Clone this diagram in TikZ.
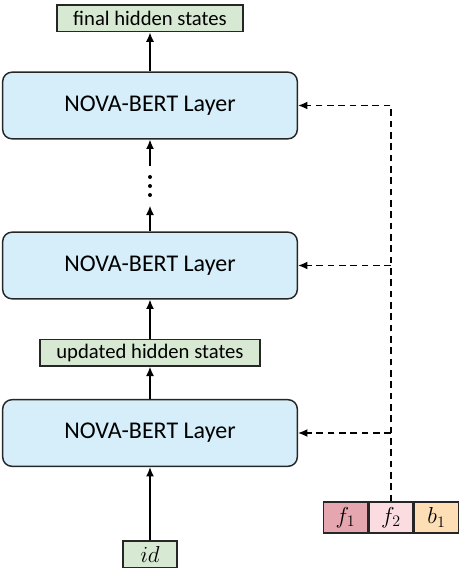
\documentclass[tikz,border=0pt]{standalone}
\usepackage{fontspec}
\setmainfont{Carlito}
\usepackage{tikz}
\usetikzlibrary{positioning, arrows.meta}
\definecolor{layerblue}{HTML}{D5EEF9}
\definecolor{stategreen}{HTML}{D7E9D2}
\definecolor{fone}{HTML}{E5A6AF}
\definecolor{ftwo}{HTML}{FBDCE1}
\definecolor{bone}{HTML}{FEDFB5}

\begin{document}
\begin{tikzpicture}[x=0.75pt,y=-0.75pt,>={Latex[length=7pt,width=6pt]},line width=1.1pt]
\tikzstyle{layer}=[rectangle,rounded corners=7pt,draw=black!85,fill=layerblue,minimum width=221pt,minimum height=50pt,font=\fontsize{18}{21}\selectfont]
\tikzstyle{hstate}=[rectangle,draw=black!85,fill=stategreen,minimum height=20pt,inner sep=2pt,font=\fontsize{15.5}{18}\selectfont]
\tikzstyle{feat}=[rectangle,draw=black!85,minimum width=33pt,minimum height=23pt,inner sep=0pt,font=\fontsize{18}{20}\selectfont]
\tikzstyle{side}=[->,dash pattern=on 5pt off 3.5pt]
\useasboundingbox (0,0) rectangle (464,571);
\node [layer] (l3) at (150,433) {NOVA-BERT Layer};
\node [layer] (l2) at (150,265.5) {NOVA-BERT Layer};
\node [layer] (l1) at (150,105.5) {NOVA-BERT Layer};
\node [hstate,minimum width=40.5pt,font=\fontsize{18}{20}\selectfont] (id) [below= 54.75pt of l3] {$id$}
edge [->](l3);
\node [hstate,minimum width=165pt] (upd) [below= 29.25pt of l2] {updated hidden states}
edge [<-](l3)
edge [->](l2);
\node [minimum height=28.5pt,inner sep=0pt] (dots) at (150,186) {}
edge [<-](l2)
edge [->](l1);
\node [hstate,minimum width=139.5pt] (final) [above= 29.25pt of l1] {final hidden states}
edge [<-](l1);
\fill (dots.center) ++(0,-9) circle (2) ++(0,9) circle (2) ++(0,9) circle (2);
% side features
\node [feat,fill=ftwo] (f2) at (391,517.5) {$f_2$};
\node [feat,fill=fone] (f1) [left= 0pt of f2] {$f_1$};
\node [feat,fill=bone] (b1) [right= 0pt of f2] {$b_1$};
\draw [side] (f2.north) |- (l1.east);
\draw [side] (f2 |- l2.east) -- (l2.east);
\draw [side] (f2 |- l3.east) -- (l3.east);
\end{tikzpicture}
\end{document}
